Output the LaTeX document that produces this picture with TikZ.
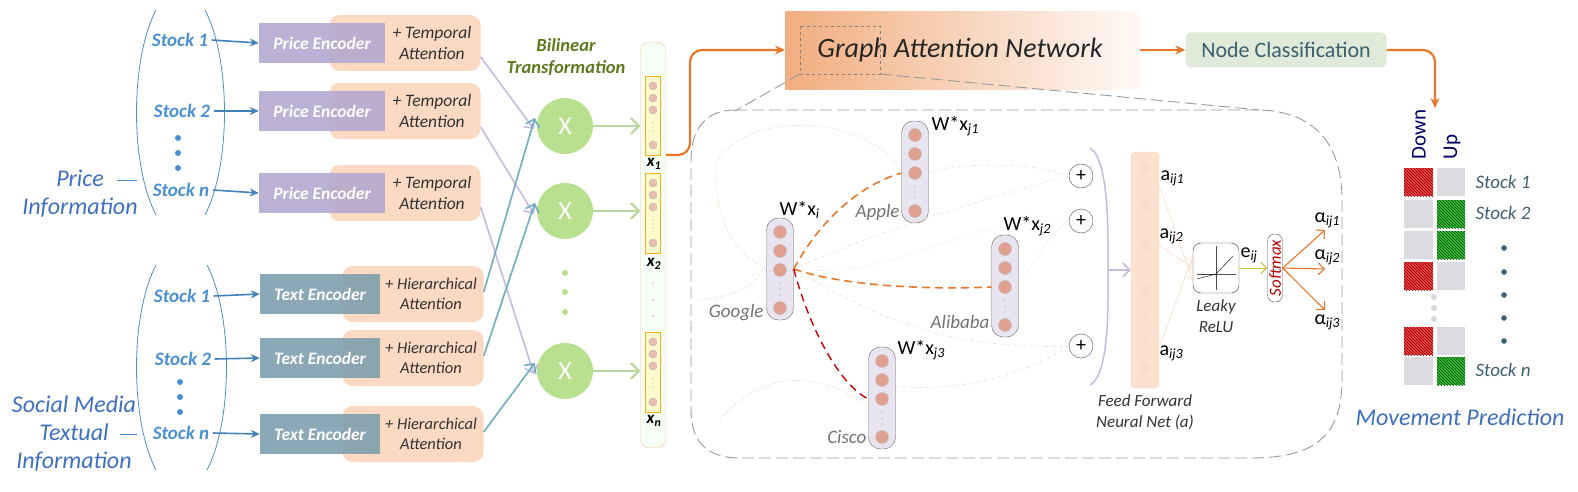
\documentclass[tikz,border=0pt]{standalone}
\usepackage{fontspec}
\setmainfont{Carlito}
\usetikzlibrary{arrows.meta,calc,patterns,shapes.geometric}
\definecolor{sblue}{HTML}{4A8FD0}
\definecolor{iblue}{HTML}{3F6FBF}
\definecolor{penc}{HTML}{B3A9D0}
\definecolor{tenc}{HTML}{7E9FAE}
\definecolor{attn}{HTML}{FBD9C3}
\definecolor{cgreen}{HTML}{B9E08F}
\definecolor{parr}{HTML}{C6BAE0}
\definecolor{tarr}{HTML}{6FAEC0}
\definecolor{garr}{HTML}{B5D89C}
\definecolor{olive}{HTML}{5E7A1E}
\definecolor{orng}{HTML}{E8772A}
\definecolor{vecf}{HTML}{E8E4F0}
\definecolor{dotc}{HTML}{E0A090}
\definecolor{slate}{HTML}{3B6070}
\definecolor{gbox}{HTML}{DFEBD8}
\definecolor{cell}{HTML}{DCDCE0}
\newcommand{\sbs}[1]{\textsubscript{\itshape #1}}
\tikzset{
  lbl/.style={font=\fontsize{19}{21}\selectfont\itshape\bfseries, text=sblue},
  info/.style={font=\fontsize{24}{28}\selectfont\itshape, text=iblue, align=center},
  sarr/.style={-{Stealth[length=9pt,width=8pt]}, line width=1.6pt, draw=sblue!90!black},
  enc/.style={fill opacity=0.9, text opacity=1, minimum width=#1, minimum height=40pt, inner sep=0pt, font=\fontsize{17.5}{19}\selectfont\itshape\bfseries, text=white},
  att/.style={fill=attn, rounded corners=10pt, minimum width=#1, minimum height=56pt, inner sep=0pt},
  atxt/.style={font=\fontsize{17.5}{21}\selectfont\itshape, align=center, text=black!80},
  mul/.style={circle, fill=cgreen, minimum size=56pt, inner sep=0pt, font=\fontsize{26}{26}\selectfont, text=white},
  parrow/.style={-{Straight Barb[length=7pt]}, draw=parr, line width=1.6pt},
  tarrow/.style={-{Straight Barb[length=7pt]}, draw=tarr, line width=1.6pt},
  garrow/.style={-{Straight Barb[length=8pt]}, draw=garr, line width=2pt},
  oarrow/.style={-{Stealth[length=10pt,width=9pt]}, draw=orng, line width=2.2pt, rounded corners=12pt},
  vec/.style={draw=black!60, fill=vecf, rounded corners=12pt, minimum width=27pt, minimum height=102pt, inner sep=0pt},
  vd/.style={circle, fill=dotc, draw=black!25, minimum size=13pt, inner sep=0pt},
  wl/.style={font=\fontsize{20}{20}\selectfont, anchor=west},
  cname/.style={font=\fontsize{19}{19}\selectfont\itshape, text=black!55},
  plus/.style={circle, draw=black!70, minimum size=24pt, inner sep=0pt, font=\fontsize{20}{20}\selectfont},
  faint/.style={draw=orng!35, densely dashed, thin},
  fdd/.style={draw=orng!40, dash dot, thin},
  sm/.style={font=\fontsize{20}{20}\selectfont},
  region/.style={draw=black!40, line width=0.9pt, dash pattern=on 12pt off 5pt},
}
\begin{document}
\begin{tikzpicture}[x=1pt,y=-1pt]
\useasboundingbox (0,0) rectangle (1578,492);
% ---------- price group
\draw[sblue, thick] (156,10) .. controls (130,60) and (130,165) .. (156,215);
\draw[sblue, thick] (205,10) .. controls (231,60) and (231,165) .. (205,215);
\node[lbl] (ps1) at (180,40) {Stock 1};
\node[lbl] (ps2) at (182,111) {Stock 2};
\node[lbl] (psn) at (181,190) {Stock n};
\foreach \y in {138,153,168} \fill[sblue] (178,\y) circle (3pt);
\node[info] (pinfo) at (80,194) {Price\\Information};
\coordinate (pl) at (137,180);
\draw[sblue, thick] (117,180) -- (pl);
% ---------- text group
\draw[sblue, thick] (156,265) .. controls (130,315) and (130,420) .. (156,470);
\draw[sblue, thick] (207,265) .. controls (233,315) and (233,420) .. (207,470);
\node[lbl] (ts1) at (182,296) {Stock 1};
\node[lbl] (ts2) at (183,359) {Stock 2};
\node[lbl] (tsn) at (181,433) {Stock n};
\foreach \y in {382,397,412} \fill[sblue] (180,\y) circle (3pt);
\node[info] (tinfo) at (74,434) {Social Media\\Textual\\Information};
\draw[sblue, thick] (120,434) -- (137,434);
% ---------- encoders
\foreach \i/\y in {1/43,2/111,3/193}{
  \node[att=151pt] (pa\i) at (405,\y) {};
  \node[enc=126pt, fill=penc] (pe\i) at (322,\y) {Price Encoder};
  \node[atxt] at (432,\y) {+ Temporal\\Attention};
}
\foreach \i/\y in {1/294,2/358,3/434}{
  \node[att=141pt] (ta\i) at (413,\y) {};
  \node[enc=120pt, fill=tenc] (te\i) at (320,\y) {Text Encoder};
  \node[atxt, font=\fontsize{16.5}{20}\selectfont\itshape] at (431,\y) {+ Hierarchical\\Attention};
}
\draw[sarr] (ps1.east) -- (pe1.west);
\draw[sarr] (ps2.east) -- (pe2.west);
\draw[sarr] (psn.east) -- (pe3.west);
\draw[sarr] (ts1.east) -- (te1.west);
\draw[sarr] (ts2.east) -- (te2.west);
\draw[sarr] (tsn.east) -- (te3.west);
% ---------- bilinear
\node[font=\fontsize{18.5}{22}\selectfont\itshape\bfseries, text=olive, align=center] (bil) at (566,57) {Bilinear\\Transformation};
\node[mul] (c1) at (565,126) {X};
\node[mul] (c2) at (565,211) {X};
\node[mul] (c3) at (565,371) {X};
\foreach \y in {273,292,312} \fill[cgreen] (565,\y) circle (3pt);
\draw[parrow] ([yshift=-14pt]pa1.east) -- ([shift={(-3,3)}]c1.west);
\draw[parrow] ([yshift=-16pt]pa2.east) -- ([shift={(-3,3)}]c2.west);
\draw[parrow] ([yshift=-14pt]pa3.east) -- ([shift={(-3,3)}]c3.west);
\draw[tarrow] ([yshift=2pt]ta1.east) -- ([shift={(-2,-8)}]c1.west);
\draw[tarrow] ([yshift=2pt]ta2.east) -- ([shift={(-2,-8)}]c2.west);
\draw[tarrow] ([yshift=2pt]ta3.east) -- ([shift={(-2,-8)}]c3.west);
% ---------- feature column
\node[draw=orng!45, fill=green!4!white, rounded corners=8pt, minimum width=25pt, minimum height=405pt, inner sep=0pt] (col) at (653,245) {};
\foreach \n/\t/\b in {v1/76/155,v2/173/253,vn/332/412}{
  \node[draw=orng!60!yellow, fill=yellow!20, minimum width=15pt, minimum height=\b-\t, inner sep=0pt] (\n) at (653,{(\t+\b)/2}) {};
  \foreach \k in {0,1,2} \node[circle, fill=dotc!70, draw=black!30, minimum size=8pt, inner sep=0pt] at (653,\t+10+\k*12) {};
  \node[circle, fill=dotc!70, draw=black!30, minimum size=8pt, inner sep=0pt] at (653,\b-10) {};
  \foreach \k in {0,1,2} \fill[black!40] (653,\t+47+\k*4) circle (0.7pt);
}
\node[font=\fontsize{17}{17}\selectfont\itshape\bfseries] at (654,164) {x\sbs{1}};
\node[font=\fontsize{17}{17}\selectfont\itshape\bfseries] at (654,264) {x\sbs{2}};
\node[font=\fontsize{17}{17}\selectfont\itshape\bfseries] at (654,421) {x\sbs{n}};
\foreach \y in {283,300,316} \fill[black!50] (653,\y) circle (0.7pt);
\draw[garrow] (c1.east) -- (col.west |- c1);
\draw[garrow] (c2.east) -- (col.west |- c2);
\draw[garrow] (c3.east) -- (col.west |- c3);
% ---------- GAT
\shade[left color=orng!60, right color=orng!4, draw=none] (785,12) rectangle (1140,90);
\node[font=\fontsize{28}{28}\selectfont\itshape, text=black!85] (gat) at (960,50) {Graph Attention Network};
\draw[black!50, dashed] (800,26) rectangle (880,74);
\node[fill=gbox, rounded corners=6pt, minimum width=201pt, minimum height=35pt, font=\fontsize{22}{22}\selectfont, text=slate] (ncl) at (1286,50) {Node Classification};
\coordinate (gatin) at (785,50);
\draw[oarrow] (666,155) -- (690,155) -- (690,50) -- (gatin);
\draw[oarrow] (1140,50) -- (ncl.west);
\coordinate (mp) at (1435,108);
\draw[oarrow] (ncl.east) -- (1435,50) -- (mp);
% ---------- dashed region
\draw[region] (735,110) -- (1260,110) .. controls (1320,112) and (1342,150) .. (1342,200) -- (1342,380)
  .. controls (1342,440) and (1310,458) .. (1250,458) -- (740,458) .. controls (705,458) and (691,440) .. (691,410) -- (691,160) .. controls (691,130) and (705,110) .. (735,110);
\draw[region] (800,74) -- (735,111);
\draw[region] (880,74) -- (1260,110);
% vectors
\node[vec] (gv) at (780,269) {};
\node[vec] (av) at (915,172) {};
\node[vec] (bv) at (1005,286) {};
\node[vec] (cv) at (882,398) {};
\foreach \v in {gv,av,bv,cv}{
  \foreach \k in {-37,-18,1,39} \node[vd] at ($(\v.center)+(0,\k)$) {};
  \foreach \k in {14,20,26} \fill[black!40] ($(\v.center)+(0,\k)$) circle (0.7pt);
}
\node[wl] at (776,210) {W*x\sbs{i}};
\node[wl] at (928,126) {W*x\sbs{j1}};
\node[wl] at (1000,226) {W*x\sbs{j2}};
\node[wl] at (894,350) {W*x\sbs{j3}};
\node[cname, anchor=east] at (767,313) {Google};
\node[cname, anchor=east] at (903,212) {Apple};
\node[cname, anchor=east] at (993,322) {Alibaba};
\node[cname, anchor=east] at (870,437) {Cisco};
\node[plus] (p1) at (1081,176) {+};
\node[plus] (p2) at (1081,221) {+};
\node[plus] (p3) at (1081,346) {+};
\coordinate (gs) at ($(gv.east)+(0,0)$);
% faint curves
\draw[faint] (715,170) .. controls (730,110) and (870,110) .. ([yshift=-1pt]av.west);
\draw[faint] (715,175) .. controls (720,240) and (745,258) .. (gv.west);
\draw[faint] (700,300) .. controls (740,295) and (760,285) .. ([yshift=10pt]gv.west);
\draw[faint] (720,420) .. controls (760,370) and (820,370) .. ([yshift=-8pt]cv.west);
\draw[fdd] (av.east) .. controls (980,160) and (1040,165) .. (p1.west);
\draw[fdd] (gs) .. controls (880,230) and (980,200) .. (p1.west);
\draw[draw=purple!30, densely dotted] (gs) .. controls (900,280) and (950,220) .. (p2.west);
\draw[draw=purple!30, densely dotted] ([yshift=6pt]bv.east) .. controls (1040,260) and (1050,230) .. (p2.west);
\draw[fdd] (gs) .. controls (880,320) and (950,350) .. (p3.west);
\draw[fdd] ([yshift=12pt]cv.east) .. controls (980,395) and (1050,360) .. (p3.west);
\draw[orng, line width=1.6pt, dash pattern=on 8pt off 5pt] (gs) .. controls (820,220) and (860,185) .. ([yshift=-1pt]av.west);
\draw[orng, line width=1.6pt, dash pattern=on 8pt off 5pt] (gs) .. controls (840,285) and (920,290) .. ([yshift=-1pt]bv.west);
\draw[red!80!black, line width=1.4pt, dash pattern=on 8pt off 5pt] (gs) .. controls (810,330) and (840,385) .. ([yshift=-1pt]cv.west);
% bracket + FFNN
\draw[parr, line width=1.5pt] (1090,148) .. controls (1110,160) and (1108,240) .. (1108,270) .. controls (1108,300) and (1110,375) .. (1090,385);
\node[fill=attn!80, draw=orng!30, rounded corners=4pt, minimum width=28pt, minimum height=236pt, inner sep=0pt] (ff) at (1145,270) {};
\foreach \y in {168,207,247,289,368} \fill[orng!25] (1145,\y) circle (5.5pt);
\foreach \y in {318,328,338} \fill[black!30] (1145,\y) circle (0.6pt);
\draw[-{Straight Barb[length=7pt]}, parr, line width=1.5pt] (1108,270) -- (ff.west);
\node[font=\fontsize{17}{21}\selectfont\itshape, align=center, text=black!80] at (1145,412) {Feed Forward\\Neural Net (a)};
\node[sm, anchor=west] (a1) at (1157,178) {a\sbs{ij1}};
\node[sm, anchor=west] (a2) at (1156,236) {a\sbs{ij2}};
\node[sm, anchor=west] (a3) at (1156,353) {a\sbs{ij3}};
\node[draw=black!80, rounded corners=8pt, minimum width=46pt, minimum height=50pt, inner sep=0pt] (lk) at (1216,268) {};
\draw[black!70] (1216,246) -- (1216,290) (1197,274) -- (1236,274);
\draw[black] (1197,279) -- (1216,274) -- (1233,256);
\node[font=\fontsize{17}{21}\selectfont\itshape, align=center, text=black!80] at (1216,316) {Leaky\\ReLU};
\draw[-{Straight Barb[length=5pt]}, orng!35] (1160,188) -- ([yshift=-12pt]lk.west);
\draw[-{Straight Barb[length=5pt]}, orng!35] (1160,246) -- (lk.west);
\draw[-{Straight Barb[length=5pt]}, orng!35] (1160,345) -- ([yshift=12pt]lk.west);
\node[sm, anchor=west] at (1237,255) {e\sbs{ij}};
\node[draw=black!70, rounded corners=7pt, rotate=90, minimum width=68pt, minimum height=15pt, inner sep=0pt, font=\fontsize{17}{17}\selectfont\itshape, text=red!70!black] (smx) at (1275,268) {Softmax};
\draw[-{Straight Barb[length=6pt]}, draw=yellow!60!olive, line width=1pt] (lk.east) -- (smx.north);
\coordinate (al1) at (1325,230);
\coordinate (al2) at (1325,269);
\coordinate (al3) at (1325,310);
\foreach \c in {al1,al2,al3} \draw[-{Straight Barb[length=6pt]}, orng, line width=1.1pt] (smx.south) -- (\c);
\node[sm, anchor=west] at (1311,220) {α\sbs{ij1}};
\node[sm, anchor=west] at (1311,257) {α\sbs{ij2}};
\node[sm, anchor=west] at (1311,322) {α\sbs{ij3}};
% ---------- movement prediction
\node[rotate=90, anchor=west, font=\fontsize{21}{21}\selectfont, text=blue!40!black] at (1419,163) {Down};
\node[rotate=90, anchor=west, font=\fontsize{21}{21}\selectfont, text=blue!40!black] at (1452,163) {Up};
\foreach \y/\d in {168/1,200/0,231/0,262/1,327/1,357/0}{
  \ifnum\d=1
    \fill[cell] (1437,\y) rectangle ++(28,28);
    \fill[red!75] (1404,\y) rectangle ++(29,28);
    \fill[pattern=north west lines, pattern color=red!40!black] (1404,\y) rectangle ++(29,28);
  \else
    \fill[cell] (1404,\y) rectangle ++(29,28);
    \fill[green!70!black!80] (1437,\y) rectangle ++(28,28);
    \fill[pattern=north west lines, pattern color=green!25!black] (1437,\y) rectangle ++(28,28);
  \fi
}
\foreach \y in {297,308,319} \fill[black!15] (1434,\y) circle (3pt);
\node[font=\fontsize{19}{20}\selectfont\itshape, text=slate, anchor=west] at (1472,182) {Stock 1};
\node[font=\fontsize{19}{20}\selectfont\itshape, text=slate, anchor=west] at (1472,213) {Stock 2};
\node[font=\fontsize{19}{20}\selectfont\itshape, text=slate, anchor=west] at (1472,370) {Stock n};
\foreach \y in {248,272,295,318,341} \fill[slate] (1504,\y) circle (2.8pt);
\node[font=\fontsize{24}{24}\selectfont\itshape, text=iblue] at (1460,417) {Movement Prediction};
\end{tikzpicture}
\end{document}
